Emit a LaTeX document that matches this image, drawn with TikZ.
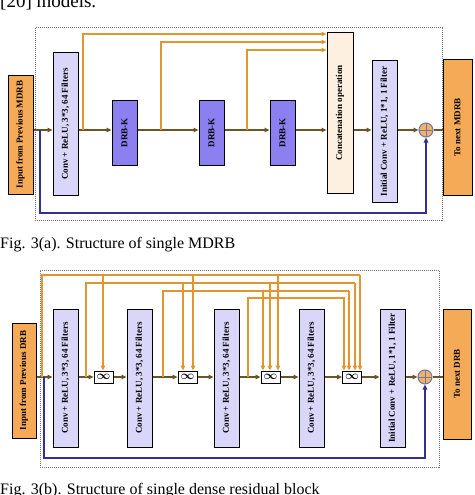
\documentclass[tikz,border=0pt]{standalone}
\usepackage{fontspec}
\setmainfont{Liberation Serif}
\usetikzlibrary{
  arrows.meta, % for the small Triangle arrow tips
}
\definecolor{ioorange}{RGB}{245,170,88}
\definecolor{convlilac}{RGB}{218,214,250}
\definecolor{drbpurple}{RGB}{140,128,240}
\definecolor{catbeige}{RGB}{253,240,224}
\definecolor{skiporange}{RGB}{226,150,50}
\definecolor{mainbrown}{RGB}{105,85,40}
\definecolor{resblue}{RGB}{50,50,140}
\definecolor{plusfill}{RGB}{242,178,100}
\definecolor{plusedge}{RGB}{110,120,170}
\newcommand{\uplabel}[1]{\rotatebox{90}{#1}} % block texts read bottom to top
\tikzset{
  block/.style={ % style for each processing block
    rectangle,draw,line width=1pt, % drawn as a thick rectangle
    fill=convlilac, % light lilac like the conv layers
    inner sep=0pt, % the size is given by minimum width/height
    minimum width=25pt, % every block has the same width
    font=\fontsize{9}{10}\selectfont\bfseries,
  },
  drb/.style={ % style for the DRB-K blocks
    block, % inherit the block style
    fill=drbpurple,
    minimum height=65pt,
  },
  cat/.style={ % style for the concatenation block
    block,
    fill=catbeige,
    minimum width=26pt,
  },
  io/.style={ % style for the inputs/outputs
    block,
    fill=ioorange,
  },
  cbox/.style={ % small concatenation box
    rectangle,draw,line width=1pt,fill=white,
    inner sep=0pt,
    minimum width=19pt,minimum height=12pt,
    font=\fontsize{12}{12}\selectfont\boldmath,
  },
  plus/.style={ % the element-wise sum
    circle,draw=plusedge,fill=plusfill,line width=1pt,
    inner sep=0pt,minimum size=14pt,
    path picture={
      \draw[plusedge,line width=1pt] (path picture bounding box.north) -- (path picture bounding box.south)
        (path picture bounding box.west) -- (path picture bounding box.east);
    },
  },
  frame/.style={ % dotted box round each block diagram
    rectangle,draw=black!55,densely dotted,line width=1pt,
    inner sep=0pt,
  },
  conn/.style={ % main data path
    -{Triangle[length=5pt,width=4.5pt]},
    mainbrown,line width=1.2pt,
  },
  link/.style={mainbrown,line width=1.2pt}, % main path with no tip
  skip/.style={ % dense connections
    -{Triangle[length=5pt,width=4.5pt]},
    skiporange,line width=1.2pt,
  },
  skipline/.style={skiporange,line width=1.2pt}, % dense connections with no tip
  res/.style={ % residual connection
    -{Triangle[length=5pt,width=4.5pt]},
    resblue,line width=1.2pt,
  },
  caption/.style={ % figure captions
    anchor=base west,inner sep=0pt,
    font=\fontsize{16}{18}\selectfont,
  },
}
\begin{document}
\begin{tikzpicture}[x=1pt,y=-1pt]
	\useasboundingbox (0,0) rectangle (474,495);

	\node[caption,font=\fontsize{19}{21}\selectfont] (prev) at (0,8) {[20] models.};

	% Fig. 3(a): single MDRB
	\node[frame,minimum width=407pt,minimum height=192pt] (fra) at (238.5,124) {};
	\node[io,minimum height=119pt] (ina) at (20.5,134.5) {\uplabel{Input from Previous MDRB}};
	\node[block,minimum height=142pt] (conva) at (65.5,124) {\uplabel{Conv + ReLU, 3*3, 64 Filters}};
	\node[drb] (drba) at (124.5,132.5) {\uplabel{DRB-K}};
	\node[drb] (drbb) at (211.5,132.5) {\uplabel{DRB-K}};
	\node[drb] (drbc) at (282.5,132.5) {\uplabel{DRB-K}};
	\node[cat,minimum height=160pt] (cat) at (340,113) {\uplabel{Concatenation operation}};
	\node[block,minimum height=141pt] (inita) at (384.5,131.5) {\uplabel{Initial Conv + ReLU, 1*1, 1 Filter}};
	\node[plus] (plusa) at (426,130) {};
	\node[io,minimum width=29pt,minimum height=135pt] (outa) at (457.5,127.5) {\uplabel{To next MDRB}};

	\coordinate (ma) at (0,130);
	\coordinate (ra) at (40,130);
	\coordinate (sa) at (83,130);
	\coordinate (sb) at (161,130);
	\coordinate (sc) at (247,130);

	\draw[conn] (ina.east |- ma) -- (conva.west |- ma);
	\draw[conn] (conva.east |- ma) -- (drba.west |- ma);
	\draw[conn] (drba.east |- ma) -- (drbb.west |- ma);
	\draw[conn] (drbb.east |- ma) -- (drbc.west |- ma);
	\draw[conn] (drbc.east |- ma) -- (cat.west |- ma);
	\draw[conn] (cat.east |- ma) -- (inita.west |- ma);
	\draw[conn] (inita.east |- ma) -- (plusa.west);
	\draw[link] (plusa.east) -- (outa.west |- ma);

	\draw[skip] (sa) |- (cat.west |- 0,34);
	\draw[skip] (sb) |- (cat.west |- 0,42);
	\draw[skip] (sc) |- (cat.west |- 0,50);

	\draw[res] (ra) -- (ra |- 0,213) -| (plusa.south);

	\node[caption] (capa) at (0,248) {Fig. 3(a). Structure of single MDRB};

	% Fig. 3(b): single dense residual block
	\node[frame,minimum width=399pt,minimum height=197pt] (frb) at (239.5,368.5) {};
	\node[io,minimum width=24pt,minimum height=115pt] (inb) at (24,380.5) {\uplabel{Input from Previous DRB}};
	\node[block,minimum height=138pt] (convb) at (65.5,378) {\uplabel{Conv + ReLU, 3*3, 64 Filters}};
	\node[cbox] (cba) at (103.5,377) {$\infty$};
	\node[block,minimum height=138pt] (convc) at (139.5,378) {\uplabel{Conv + ReLU, 3*3, 64 Filters}};
	\node[cbox] (cbb) at (187.5,377) {$\infty$};
	\node[block,minimum height=138pt] (convd) at (226.5,378) {\uplabel{Conv + ReLU, 3*3, 64 Filters}};
	\node[cbox] (cbc) at (270.5,377) {$\infty$};
	\node[block,minimum height=138pt] (conve) at (311.5,378) {\uplabel{Conv + ReLU, 3*3, 64 Filters}};
	\node[cbox] (cbd) at (352,377) {$\infty$};
	\node[block,minimum height=138pt] (initb) at (392.5,378) {\uplabel{Initial Conv + ReLU, 1*1, 1 Filter}};
	\node[plus] (plusb) at (425,377) {};
	\node[io,minimum width=28pt,minimum height=130pt] (outb) at (457,374) {\uplabel{To next DRB}};

	\coordinate (mb) at (0,377);
	\coordinate (rb) at (44,377);
	\coordinate (da) at (42,377);
	\coordinate (db) at (86,377);
	\coordinate (dc) at (163,377);
	\coordinate (dd) at (248,377);

	\draw[conn] (inb.east |- mb) -- (convb.west |- mb);
	\draw[conn] (convb.east |- mb) -- (cba.west);
	\draw[conn] (cba.east) -- (convc.west |- mb);
	\draw[conn] (convc.east |- mb) -- (cbb.west);
	\draw[conn] (cbb.east) -- (convd.west |- mb);
	\draw[conn] (convd.east |- mb) -- (cbc.west);
	\draw[conn] (cbc.east) -- (conve.west |- mb);
	\draw[conn] (conve.east |- mb) -- (cbd.west);
	\draw[conn] (cbd.east) -- (initb.west |- mb);
	\draw[conn] (initb.east |- mb) -- (plusb.west);
	\draw[link] (plusb.east) -- (outb.west |- mb);

	% dense connections, one level per source
	\draw[skipline] (da) |- (360,275);
	\draw[skip] (103,275) -- (cba.north -| 103,0);
	\draw[skip] (193,275) -- (cbb.north -| 193,0);
	\draw[skip] (278,275) -- (cbc.north -| 278,0);
	\draw[skip] (360,275) -- (cbd.north -| 360,0);

	\draw[skipline] (db) |- (355,283);
	\draw[skip] (183,283) -- (cbb.north -| 183,0);
	\draw[skip] (270,283) -- (cbc.north -| 270,0);
	\draw[skip] (355,283) -- (cbd.north -| 355,0);

	\draw[skipline] (dc) |- (349,291);
	\draw[skip] (263,291) -- (cbc.north -| 263,0);
	\draw[skip] (349,291) -- (cbd.north -| 349,0);

	\draw[skip] (dd) |- (344,298) -- (cbd.north -| 344,0);

	\draw[res] (rb) -- (rb |- 0,458) -| (plusb.south);

	\node[caption] (capb) at (0,494) {Fig. 3(b). Structure of single dense residual block};

\end{tikzpicture}
\end{document}
